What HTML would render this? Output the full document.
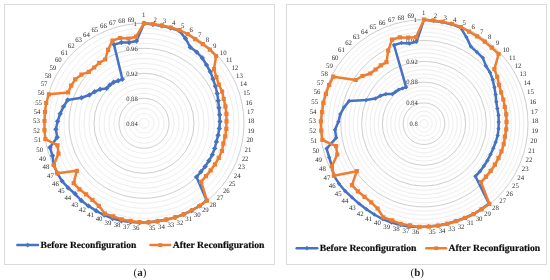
<!DOCTYPE html>
<html><head><meta charset="utf-8"><title>Radar charts</title>
<style>html,body{margin:0;padding:0;background:#fff}svg{display:block;text-rendering:geometricPrecision}</style></head>
<body>
<svg width="550" height="280" viewBox="0 0 550 280" font-family="'Liberation Serif', 'Times New Roman', serif">
<rect x="0" y="0" width="550" height="280" fill="#ffffff"/>
<rect x="4.5" y="4.5" width="270" height="260" fill="#fff" stroke="#dbdbdb" stroke-width="1"/>
<rect x="286.5" y="4.5" width="260" height="260" fill="#fff" stroke="#dbdbdb" stroke-width="1"/>
<circle cx="144" cy="123.3" r="5.00" fill="none" stroke="#eeeeee" stroke-width="1.0"/>
<circle cx="144" cy="123.3" r="10.00" fill="none" stroke="#eeeeee" stroke-width="1.0"/>
<circle cx="144" cy="123.3" r="15.00" fill="none" stroke="#eeeeee" stroke-width="1.0"/>
<circle cx="144" cy="123.3" r="20.00" fill="none" stroke="#eeeeee" stroke-width="1.0"/>
<circle cx="144" cy="123.3" r="25.00" fill="none" stroke="#cecece" stroke-width="1.0"/>
<circle cx="144" cy="123.3" r="30.00" fill="none" stroke="#eeeeee" stroke-width="1.0"/>
<circle cx="144" cy="123.3" r="35.00" fill="none" stroke="#eeeeee" stroke-width="1.0"/>
<circle cx="144" cy="123.3" r="40.00" fill="none" stroke="#eeeeee" stroke-width="1.0"/>
<circle cx="144" cy="123.3" r="45.00" fill="none" stroke="#eeeeee" stroke-width="1.0"/>
<circle cx="144" cy="123.3" r="50.00" fill="none" stroke="#cecece" stroke-width="1.0"/>
<circle cx="144" cy="123.3" r="55.00" fill="none" stroke="#eeeeee" stroke-width="1.0"/>
<circle cx="144" cy="123.3" r="60.00" fill="none" stroke="#eeeeee" stroke-width="1.0"/>
<circle cx="144" cy="123.3" r="65.00" fill="none" stroke="#eeeeee" stroke-width="1.0"/>
<circle cx="144" cy="123.3" r="70.00" fill="none" stroke="#eeeeee" stroke-width="1.0"/>
<circle cx="144" cy="123.3" r="75.00" fill="none" stroke="#cecece" stroke-width="1.0"/>
<circle cx="144" cy="123.3" r="80.00" fill="none" stroke="#eeeeee" stroke-width="1.0"/>
<circle cx="144" cy="123.3" r="85.00" fill="none" stroke="#eeeeee" stroke-width="1.0"/>
<circle cx="144" cy="123.3" r="90.00" fill="none" stroke="#eeeeee" stroke-width="1.0"/>
<circle cx="144" cy="123.3" r="95.00" fill="none" stroke="#eeeeee" stroke-width="1.0"/>
<circle cx="144" cy="123.3" r="100.00" fill="none" stroke="#cecece" stroke-width="1.0"/>
<text x="136.8" y="25.5" text-anchor="end" font-size="6.6" fill="#2b2b2b">1</text>
<text x="137.7" y="50.5" text-anchor="end" font-size="6.6" fill="#2b2b2b">0.96</text>
<text x="137.7" y="75.5" text-anchor="end" font-size="6.6" fill="#2b2b2b">0.92</text>
<text x="137.7" y="100.5" text-anchor="end" font-size="6.6" fill="#2b2b2b">0.88</text>
<text x="137.7" y="125.5" text-anchor="end" font-size="6.6" fill="#2b2b2b">0.84</text>
<line x1="136.6" y1="23.299999999999997" x2="141" y2="23.299999999999997" stroke="#bdbdbd" stroke-width="0.8"/>
<text x="143.6" y="17.1" text-anchor="middle" font-size="6.8" fill="#2b2b2b">1</text>
<text x="153.4" y="21.9" text-anchor="start" font-size="6.8" fill="#2b2b2b">2</text>
<text x="162.8" y="23.2" text-anchor="start" font-size="6.8" fill="#2b2b2b">3</text>
<text x="172.0" y="25.4" text-anchor="start" font-size="6.8" fill="#2b2b2b">4</text>
<text x="180.9" y="28.3" text-anchor="start" font-size="6.8" fill="#2b2b2b">5</text>
<text x="189.6" y="32.1" text-anchor="start" font-size="6.8" fill="#2b2b2b">6</text>
<text x="197.9" y="36.7" text-anchor="start" font-size="6.8" fill="#2b2b2b">7</text>
<text x="205.7" y="42.0" text-anchor="start" font-size="6.8" fill="#2b2b2b">8</text>
<text x="213.0" y="47.9" text-anchor="start" font-size="6.8" fill="#2b2b2b">9</text>
<text x="219.8" y="54.6" text-anchor="start" font-size="6.8" fill="#2b2b2b">10</text>
<text x="225.9" y="61.8" text-anchor="start" font-size="6.8" fill="#2b2b2b">11</text>
<text x="231.4" y="69.5" text-anchor="start" font-size="6.8" fill="#2b2b2b">12</text>
<text x="236.1" y="77.8" text-anchor="start" font-size="6.8" fill="#2b2b2b">13</text>
<text x="240.0" y="86.4" text-anchor="start" font-size="6.8" fill="#2b2b2b">14</text>
<text x="243.2" y="95.3" text-anchor="start" font-size="6.8" fill="#2b2b2b">15</text>
<text x="245.5" y="104.5" text-anchor="start" font-size="6.8" fill="#2b2b2b">16</text>
<text x="247.0" y="113.9" text-anchor="start" font-size="6.8" fill="#2b2b2b">17</text>
<text x="247.7" y="123.3" text-anchor="start" font-size="6.8" fill="#2b2b2b">18</text>
<text x="247.5" y="132.8" text-anchor="start" font-size="6.8" fill="#2b2b2b">19</text>
<text x="246.4" y="142.2" text-anchor="start" font-size="6.8" fill="#2b2b2b">20</text>
<text x="244.5" y="151.5" text-anchor="start" font-size="6.8" fill="#2b2b2b">21</text>
<text x="241.7" y="160.6" text-anchor="start" font-size="6.8" fill="#2b2b2b">22</text>
<text x="238.1" y="169.4" text-anchor="start" font-size="6.8" fill="#2b2b2b">23</text>
<text x="233.8" y="177.8" text-anchor="start" font-size="6.8" fill="#2b2b2b">24</text>
<text x="228.7" y="185.8" text-anchor="start" font-size="6.8" fill="#2b2b2b">25</text>
<text x="222.9" y="193.3" text-anchor="start" font-size="6.8" fill="#2b2b2b">26</text>
<text x="216.5" y="200.2" text-anchor="start" font-size="6.8" fill="#2b2b2b">27</text>
<text x="209.4" y="206.5" text-anchor="start" font-size="6.8" fill="#2b2b2b">28</text>
<text x="201.9" y="212.2" text-anchor="start" font-size="6.8" fill="#2b2b2b">29</text>
<text x="193.8" y="217.1" text-anchor="start" font-size="6.8" fill="#2b2b2b">30</text>
<text x="185.3" y="221.3" text-anchor="start" font-size="6.8" fill="#2b2b2b">31</text>
<text x="176.5" y="224.7" text-anchor="start" font-size="6.8" fill="#2b2b2b">32</text>
<text x="167.4" y="227.2" text-anchor="start" font-size="6.8" fill="#2b2b2b">33</text>
<text x="158.1" y="228.9" text-anchor="start" font-size="6.8" fill="#2b2b2b">34</text>
<text x="148.7" y="229.8" text-anchor="start" font-size="6.8" fill="#2b2b2b">35</text>
<text x="139.3" y="229.8" text-anchor="end" font-size="6.8" fill="#2b2b2b">36</text>
<text x="129.8" y="228.9" text-anchor="end" font-size="6.8" fill="#2b2b2b">37</text>
<text x="120.5" y="227.2" text-anchor="end" font-size="6.8" fill="#2b2b2b">38</text>
<text x="111.3" y="224.7" text-anchor="end" font-size="6.8" fill="#2b2b2b">39</text>
<text x="102.5" y="221.3" text-anchor="end" font-size="6.8" fill="#2b2b2b">40</text>
<text x="94.0" y="217.1" text-anchor="end" font-size="6.8" fill="#2b2b2b">41</text>
<text x="85.9" y="212.2" text-anchor="end" font-size="6.8" fill="#2b2b2b">42</text>
<text x="78.2" y="206.5" text-anchor="end" font-size="6.8" fill="#2b2b2b">43</text>
<text x="71.2" y="200.2" text-anchor="end" font-size="6.8" fill="#2b2b2b">44</text>
<text x="64.7" y="193.3" text-anchor="end" font-size="6.8" fill="#2b2b2b">45</text>
<text x="58.9" y="185.8" text-anchor="end" font-size="6.8" fill="#2b2b2b">46</text>
<text x="53.8" y="177.8" text-anchor="end" font-size="6.8" fill="#2b2b2b">47</text>
<text x="49.4" y="169.4" text-anchor="end" font-size="6.8" fill="#2b2b2b">48</text>
<text x="45.8" y="160.6" text-anchor="end" font-size="6.8" fill="#2b2b2b">49</text>
<text x="43.1" y="151.5" text-anchor="end" font-size="6.8" fill="#2b2b2b">50</text>
<text x="41.1" y="142.2" text-anchor="end" font-size="6.8" fill="#2b2b2b">51</text>
<text x="40.0" y="132.8" text-anchor="end" font-size="6.8" fill="#2b2b2b">52</text>
<text x="39.8" y="123.3" text-anchor="end" font-size="6.8" fill="#2b2b2b">53</text>
<text x="40.5" y="113.9" text-anchor="end" font-size="6.8" fill="#2b2b2b">54</text>
<text x="42.0" y="104.5" text-anchor="end" font-size="6.8" fill="#2b2b2b">55</text>
<text x="44.3" y="95.3" text-anchor="end" font-size="6.8" fill="#2b2b2b">56</text>
<text x="47.5" y="86.4" text-anchor="end" font-size="6.8" fill="#2b2b2b">57</text>
<text x="51.5" y="77.8" text-anchor="end" font-size="6.8" fill="#2b2b2b">58</text>
<text x="56.2" y="69.5" text-anchor="end" font-size="6.8" fill="#2b2b2b">59</text>
<text x="61.7" y="61.8" text-anchor="end" font-size="6.8" fill="#2b2b2b">60</text>
<text x="67.8" y="54.6" text-anchor="end" font-size="6.8" fill="#2b2b2b">61</text>
<text x="74.6" y="47.9" text-anchor="end" font-size="6.8" fill="#2b2b2b">62</text>
<text x="82.0" y="42.0" text-anchor="end" font-size="6.8" fill="#2b2b2b">63</text>
<text x="89.9" y="36.7" text-anchor="end" font-size="6.8" fill="#2b2b2b">64</text>
<text x="98.2" y="32.1" text-anchor="end" font-size="6.8" fill="#2b2b2b">65</text>
<text x="106.9" y="28.3" text-anchor="end" font-size="6.8" fill="#2b2b2b">66</text>
<text x="115.9" y="25.4" text-anchor="end" font-size="6.8" fill="#2b2b2b">67</text>
<text x="125.1" y="23.2" text-anchor="end" font-size="6.8" fill="#2b2b2b">68</text>
<text x="134.5" y="21.9" text-anchor="end" font-size="6.8" fill="#2b2b2b">69</text>
<path d="M144.0 23.3 L153.0 24.5 L161.9 25.9 L170.7 28.0 L179.3 30.8 L185.5 38.5 L190.3 47.2 L196.7 52.1 L202.3 58.0 L206.5 64.9 L210.3 71.8 L213.1 79.1 L215.4 86.3 L217.2 93.4 L218.2 100.7 L219.0 107.7 L219.6 114.7 L220.0 121.6 L219.3 128.5 L218.1 135.2 L216.4 141.8 L214.7 148.4 L212.3 154.8 L208.9 160.8 L205.2 166.5 L200.9 171.8 L196.5 177.0 L206.7 200.4 L199.5 205.9 L191.7 210.5 L183.6 214.4 L175.1 217.4 L166.3 219.6 L157.5 221.3 L148.5 222.3 L139.5 222.5 L130.5 221.9 L121.4 220.7 L112.6 218.5 L104.2 215.0 L96.1 210.8 L88.5 205.9 L81.2 200.5 L75.1 193.8 L68.2 187.9 L62.1 181.1 L57.4 173.3 L53.8 165.0 L52.5 155.8 L49.9 147.4 L57.2 137.2 L55.9 129.3 L57.6 121.3 L60.2 113.7 L63.5 106.6 L67.7 100.0 L81.5 97.8 L89.3 95.0 L94.6 91.7 L100.2 89.3 L106.6 88.4 L109.8 84.9 L113.6 82.2 L118.2 80.8 L122.4 79.2 L114.0 44.6 L121.4 42.5 L129.1 42.5 L136.5 41.0 Z" fill="none" stroke="#4472C4" stroke-width="2.5" stroke-linejoin="round"/>
<path d="M144.0 20.6l2.7 2.7l-2.7 2.7l-2.7 -2.7zM153.0 21.8l2.7 2.7l-2.7 2.7l-2.7 -2.7zM161.9 23.2l2.7 2.7l-2.7 2.7l-2.7 -2.7zM170.7 25.3l2.7 2.7l-2.7 2.7l-2.7 -2.7zM179.3 28.1l2.7 2.7l-2.7 2.7l-2.7 -2.7zM185.5 35.8l2.7 2.7l-2.7 2.7l-2.7 -2.7zM190.3 44.5l2.7 2.7l-2.7 2.7l-2.7 -2.7zM196.7 49.4l2.7 2.7l-2.7 2.7l-2.7 -2.7zM202.3 55.3l2.7 2.7l-2.7 2.7l-2.7 -2.7zM206.5 62.2l2.7 2.7l-2.7 2.7l-2.7 -2.7zM210.3 69.1l2.7 2.7l-2.7 2.7l-2.7 -2.7zM213.1 76.4l2.7 2.7l-2.7 2.7l-2.7 -2.7zM215.4 83.6l2.7 2.7l-2.7 2.7l-2.7 -2.7zM217.2 90.7l2.7 2.7l-2.7 2.7l-2.7 -2.7zM218.2 98.0l2.7 2.7l-2.7 2.7l-2.7 -2.7zM219.0 105.0l2.7 2.7l-2.7 2.7l-2.7 -2.7zM219.6 112.0l2.7 2.7l-2.7 2.7l-2.7 -2.7zM220.0 118.9l2.7 2.7l-2.7 2.7l-2.7 -2.7zM219.3 125.8l2.7 2.7l-2.7 2.7l-2.7 -2.7zM218.1 132.5l2.7 2.7l-2.7 2.7l-2.7 -2.7zM216.4 139.1l2.7 2.7l-2.7 2.7l-2.7 -2.7zM214.7 145.7l2.7 2.7l-2.7 2.7l-2.7 -2.7zM212.3 152.1l2.7 2.7l-2.7 2.7l-2.7 -2.7zM208.9 158.1l2.7 2.7l-2.7 2.7l-2.7 -2.7zM205.2 163.8l2.7 2.7l-2.7 2.7l-2.7 -2.7zM200.9 169.1l2.7 2.7l-2.7 2.7l-2.7 -2.7zM196.5 174.3l2.7 2.7l-2.7 2.7l-2.7 -2.7zM206.7 197.7l2.7 2.7l-2.7 2.7l-2.7 -2.7zM199.5 203.2l2.7 2.7l-2.7 2.7l-2.7 -2.7zM191.7 207.8l2.7 2.7l-2.7 2.7l-2.7 -2.7zM183.6 211.7l2.7 2.7l-2.7 2.7l-2.7 -2.7zM175.1 214.7l2.7 2.7l-2.7 2.7l-2.7 -2.7zM166.3 216.9l2.7 2.7l-2.7 2.7l-2.7 -2.7zM157.5 218.6l2.7 2.7l-2.7 2.7l-2.7 -2.7zM148.5 219.6l2.7 2.7l-2.7 2.7l-2.7 -2.7zM139.5 219.8l2.7 2.7l-2.7 2.7l-2.7 -2.7zM130.5 219.2l2.7 2.7l-2.7 2.7l-2.7 -2.7zM121.4 218.0l2.7 2.7l-2.7 2.7l-2.7 -2.7zM112.6 215.8l2.7 2.7l-2.7 2.7l-2.7 -2.7zM104.2 212.3l2.7 2.7l-2.7 2.7l-2.7 -2.7zM96.1 208.1l2.7 2.7l-2.7 2.7l-2.7 -2.7zM88.5 203.2l2.7 2.7l-2.7 2.7l-2.7 -2.7zM81.2 197.8l2.7 2.7l-2.7 2.7l-2.7 -2.7zM75.1 191.1l2.7 2.7l-2.7 2.7l-2.7 -2.7zM68.2 185.2l2.7 2.7l-2.7 2.7l-2.7 -2.7zM62.1 178.4l2.7 2.7l-2.7 2.7l-2.7 -2.7zM57.4 170.6l2.7 2.7l-2.7 2.7l-2.7 -2.7zM53.8 162.3l2.7 2.7l-2.7 2.7l-2.7 -2.7zM52.5 153.1l2.7 2.7l-2.7 2.7l-2.7 -2.7zM49.9 144.7l2.7 2.7l-2.7 2.7l-2.7 -2.7zM57.2 134.5l2.7 2.7l-2.7 2.7l-2.7 -2.7zM55.9 126.6l2.7 2.7l-2.7 2.7l-2.7 -2.7zM57.6 118.6l2.7 2.7l-2.7 2.7l-2.7 -2.7zM60.2 111.0l2.7 2.7l-2.7 2.7l-2.7 -2.7zM63.5 103.9l2.7 2.7l-2.7 2.7l-2.7 -2.7zM67.7 97.3l2.7 2.7l-2.7 2.7l-2.7 -2.7zM81.5 95.1l2.7 2.7l-2.7 2.7l-2.7 -2.7zM89.3 92.3l2.7 2.7l-2.7 2.7l-2.7 -2.7zM94.6 89.0l2.7 2.7l-2.7 2.7l-2.7 -2.7zM100.2 86.6l2.7 2.7l-2.7 2.7l-2.7 -2.7zM106.6 85.7l2.7 2.7l-2.7 2.7l-2.7 -2.7zM109.8 82.2l2.7 2.7l-2.7 2.7l-2.7 -2.7zM113.6 79.5l2.7 2.7l-2.7 2.7l-2.7 -2.7zM118.2 78.1l2.7 2.7l-2.7 2.7l-2.7 -2.7zM122.4 76.5l2.7 2.7l-2.7 2.7l-2.7 -2.7zM114.0 41.9l2.7 2.7l-2.7 2.7l-2.7 -2.7zM121.4 39.8l2.7 2.7l-2.7 2.7l-2.7 -2.7zM129.1 39.8l2.7 2.7l-2.7 2.7l-2.7 -2.7zM136.5 38.3l2.7 2.7l-2.7 2.7l-2.7 -2.7z" fill="#4472C4"/>
<path d="M144.0 23.3 L153.1 24.0 L162.0 25.4 L170.8 27.5 L179.5 30.2 L187.7 34.1 L195.2 39.1 L202.7 44.1 L209.8 49.6 L216.1 56.0 L214.0 69.0 L216.4 77.0 L218.8 84.6 L222.1 91.5 L223.7 99.0 L225.4 106.4 L226.4 113.9 L226.5 121.4 L226.3 128.9 L225.2 136.3 L223.4 143.6 L221.9 151.0 L218.8 157.8 L215.0 164.3 L210.7 170.4 L206.0 176.1 L201.2 181.8 L206.9 200.6 L199.6 206.0 L191.7 210.5 L183.6 214.4 L175.1 217.4 L166.3 219.6 L157.5 221.3 L148.5 222.3 L139.5 222.2 L130.6 220.9 L121.7 219.4 L113.3 216.4 L104.8 213.6 L98.8 205.8 L92.4 200.0 L86.1 194.4 L79.5 189.3 L73.7 183.2 L76.8 170.8 L57.4 173.3 L53.8 165.0 L58.5 153.7 L57.5 145.4 L45.4 139.2 L44.5 130.1 L44.5 121.0 L45.0 112.0 L46.2 103.0 L48.9 94.3 L68.1 92.4 L71.2 85.6 L75.2 79.3 L81.4 74.7 L88.8 71.8 L94.2 67.5 L99.2 62.9 L105.2 59.5 L108.1 49.9 L112.5 40.6 L120.1 38.0 L128.4 38.5 L136.1 36.7 Z" fill="none" stroke="#ED7D31" stroke-width="2.5" stroke-linejoin="round"/>
<path d="M141.9 21.2h4.2v4.2h-4.2zM151.0 21.9h4.2v4.2h-4.2zM159.9 23.3h4.2v4.2h-4.2zM168.7 25.4h4.2v4.2h-4.2zM177.4 28.1h4.2v4.2h-4.2zM185.6 32.0h4.2v4.2h-4.2zM193.1 37.0h4.2v4.2h-4.2zM200.6 42.0h4.2v4.2h-4.2zM207.7 47.5h4.2v4.2h-4.2zM214.0 53.9h4.2v4.2h-4.2zM211.9 66.9h4.2v4.2h-4.2zM214.3 74.9h4.2v4.2h-4.2zM216.7 82.5h4.2v4.2h-4.2zM220.0 89.4h4.2v4.2h-4.2zM221.6 96.9h4.2v4.2h-4.2zM223.3 104.3h4.2v4.2h-4.2zM224.3 111.8h4.2v4.2h-4.2zM224.4 119.3h4.2v4.2h-4.2zM224.2 126.8h4.2v4.2h-4.2zM223.1 134.2h4.2v4.2h-4.2zM221.3 141.5h4.2v4.2h-4.2zM219.8 148.9h4.2v4.2h-4.2zM216.7 155.7h4.2v4.2h-4.2zM212.9 162.2h4.2v4.2h-4.2zM208.6 168.3h4.2v4.2h-4.2zM203.9 174.0h4.2v4.2h-4.2zM199.1 179.7h4.2v4.2h-4.2zM204.8 198.5h4.2v4.2h-4.2zM197.5 203.9h4.2v4.2h-4.2zM189.6 208.4h4.2v4.2h-4.2zM181.5 212.3h4.2v4.2h-4.2zM173.0 215.3h4.2v4.2h-4.2zM164.2 217.5h4.2v4.2h-4.2zM155.4 219.2h4.2v4.2h-4.2zM146.4 220.2h4.2v4.2h-4.2zM137.4 220.1h4.2v4.2h-4.2zM128.5 218.8h4.2v4.2h-4.2zM119.6 217.3h4.2v4.2h-4.2zM111.2 214.3h4.2v4.2h-4.2zM102.7 211.5h4.2v4.2h-4.2zM96.7 203.7h4.2v4.2h-4.2zM90.3 197.9h4.2v4.2h-4.2zM84.0 192.3h4.2v4.2h-4.2zM77.4 187.2h4.2v4.2h-4.2zM71.6 181.1h4.2v4.2h-4.2zM74.7 168.7h4.2v4.2h-4.2zM55.3 171.2h4.2v4.2h-4.2zM51.7 162.9h4.2v4.2h-4.2zM56.4 151.6h4.2v4.2h-4.2zM55.4 143.3h4.2v4.2h-4.2zM43.3 137.1h4.2v4.2h-4.2zM42.4 128.0h4.2v4.2h-4.2zM42.4 118.9h4.2v4.2h-4.2zM42.9 109.9h4.2v4.2h-4.2zM44.1 100.9h4.2v4.2h-4.2zM46.8 92.2h4.2v4.2h-4.2zM66.0 90.3h4.2v4.2h-4.2zM69.1 83.5h4.2v4.2h-4.2zM73.1 77.2h4.2v4.2h-4.2zM79.3 72.6h4.2v4.2h-4.2zM86.7 69.7h4.2v4.2h-4.2zM92.1 65.4h4.2v4.2h-4.2zM97.1 60.8h4.2v4.2h-4.2zM103.1 57.4h4.2v4.2h-4.2zM106.0 47.8h4.2v4.2h-4.2zM110.4 38.5h4.2v4.2h-4.2zM118.0 35.9h4.2v4.2h-4.2zM126.3 36.4h4.2v4.2h-4.2zM134.0 34.6h4.2v4.2h-4.2z" fill="#ED7D31"/>
<circle cx="424" cy="123.7" r="4.16" fill="none" stroke="#eeeeee" stroke-width="1.0"/>
<circle cx="424" cy="123.7" r="8.32" fill="none" stroke="#eeeeee" stroke-width="1.0"/>
<circle cx="424" cy="123.7" r="12.48" fill="none" stroke="#eeeeee" stroke-width="1.0"/>
<circle cx="424" cy="123.7" r="16.64" fill="none" stroke="#eeeeee" stroke-width="1.0"/>
<circle cx="424" cy="123.7" r="20.80" fill="none" stroke="#cecece" stroke-width="1.0"/>
<circle cx="424" cy="123.7" r="24.96" fill="none" stroke="#eeeeee" stroke-width="1.0"/>
<circle cx="424" cy="123.7" r="29.12" fill="none" stroke="#eeeeee" stroke-width="1.0"/>
<circle cx="424" cy="123.7" r="33.28" fill="none" stroke="#eeeeee" stroke-width="1.0"/>
<circle cx="424" cy="123.7" r="37.44" fill="none" stroke="#eeeeee" stroke-width="1.0"/>
<circle cx="424" cy="123.7" r="41.60" fill="none" stroke="#cecece" stroke-width="1.0"/>
<circle cx="424" cy="123.7" r="45.76" fill="none" stroke="#eeeeee" stroke-width="1.0"/>
<circle cx="424" cy="123.7" r="49.92" fill="none" stroke="#eeeeee" stroke-width="1.0"/>
<circle cx="424" cy="123.7" r="54.08" fill="none" stroke="#eeeeee" stroke-width="1.0"/>
<circle cx="424" cy="123.7" r="58.24" fill="none" stroke="#eeeeee" stroke-width="1.0"/>
<circle cx="424" cy="123.7" r="62.40" fill="none" stroke="#cecece" stroke-width="1.0"/>
<circle cx="424" cy="123.7" r="66.56" fill="none" stroke="#eeeeee" stroke-width="1.0"/>
<circle cx="424" cy="123.7" r="70.72" fill="none" stroke="#eeeeee" stroke-width="1.0"/>
<circle cx="424" cy="123.7" r="74.88" fill="none" stroke="#eeeeee" stroke-width="1.0"/>
<circle cx="424" cy="123.7" r="79.04" fill="none" stroke="#eeeeee" stroke-width="1.0"/>
<circle cx="424" cy="123.7" r="83.20" fill="none" stroke="#cecece" stroke-width="1.0"/>
<circle cx="424" cy="123.7" r="87.36" fill="none" stroke="#eeeeee" stroke-width="1.0"/>
<circle cx="424" cy="123.7" r="91.52" fill="none" stroke="#eeeeee" stroke-width="1.0"/>
<circle cx="424" cy="123.7" r="95.68" fill="none" stroke="#eeeeee" stroke-width="1.0"/>
<circle cx="424" cy="123.7" r="99.84" fill="none" stroke="#eeeeee" stroke-width="1.0"/>
<circle cx="424" cy="123.7" r="104.00" fill="none" stroke="#cecece" stroke-width="1.0"/>
<text x="416.8" y="21.9" text-anchor="end" font-size="6.6" fill="#2b2b2b">1</text>
<text x="417.7" y="42.7" text-anchor="end" font-size="6.6" fill="#2b2b2b">0.96</text>
<text x="417.7" y="63.5" text-anchor="end" font-size="6.6" fill="#2b2b2b">0.92</text>
<text x="417.7" y="84.3" text-anchor="end" font-size="6.6" fill="#2b2b2b">0.88</text>
<text x="417.7" y="105.1" text-anchor="end" font-size="6.6" fill="#2b2b2b">0.84</text>
<text x="417.7" y="125.9" text-anchor="end" font-size="6.6" fill="#2b2b2b">0.8</text>
<line x1="416.6" y1="19.700000000000003" x2="421" y2="19.700000000000003" stroke="#bdbdbd" stroke-width="0.8"/>
<text x="423.6" y="14.9" text-anchor="middle" font-size="6.8" fill="#2b2b2b">1</text>
<text x="433.8" y="18.1" text-anchor="start" font-size="6.8" fill="#2b2b2b">2</text>
<text x="443.5" y="19.5" text-anchor="start" font-size="6.8" fill="#2b2b2b">3</text>
<text x="453.1" y="21.7" text-anchor="start" font-size="6.8" fill="#2b2b2b">4</text>
<text x="462.4" y="24.8" text-anchor="start" font-size="6.8" fill="#2b2b2b">5</text>
<text x="471.4" y="28.7" text-anchor="start" font-size="6.8" fill="#2b2b2b">6</text>
<text x="480.0" y="33.5" text-anchor="start" font-size="6.8" fill="#2b2b2b">7</text>
<text x="488.1" y="38.9" text-anchor="start" font-size="6.8" fill="#2b2b2b">8</text>
<text x="495.7" y="45.2" text-anchor="start" font-size="6.8" fill="#2b2b2b">9</text>
<text x="502.7" y="52.0" text-anchor="start" font-size="6.8" fill="#2b2b2b">10</text>
<text x="509.1" y="59.5" text-anchor="start" font-size="6.8" fill="#2b2b2b">11</text>
<text x="514.7" y="67.6" text-anchor="start" font-size="6.8" fill="#2b2b2b">12</text>
<text x="519.6" y="76.1" text-anchor="start" font-size="6.8" fill="#2b2b2b">13</text>
<text x="523.7" y="85.1" text-anchor="start" font-size="6.8" fill="#2b2b2b">14</text>
<text x="527.0" y="94.3" text-anchor="start" font-size="6.8" fill="#2b2b2b">15</text>
<text x="529.4" y="103.9" text-anchor="start" font-size="6.8" fill="#2b2b2b">16</text>
<text x="531.0" y="113.6" text-anchor="start" font-size="6.8" fill="#2b2b2b">17</text>
<text x="531.7" y="123.4" text-anchor="start" font-size="6.8" fill="#2b2b2b">18</text>
<text x="531.4" y="133.3" text-anchor="start" font-size="6.8" fill="#2b2b2b">19</text>
<text x="530.3" y="143.1" text-anchor="start" font-size="6.8" fill="#2b2b2b">20</text>
<text x="528.3" y="152.7" text-anchor="start" font-size="6.8" fill="#2b2b2b">21</text>
<text x="525.5" y="162.1" text-anchor="start" font-size="6.8" fill="#2b2b2b">22</text>
<text x="521.8" y="171.3" text-anchor="start" font-size="6.8" fill="#2b2b2b">23</text>
<text x="517.3" y="180.0" text-anchor="start" font-size="6.8" fill="#2b2b2b">24</text>
<text x="512.0" y="188.3" text-anchor="start" font-size="6.8" fill="#2b2b2b">25</text>
<text x="506.0" y="196.1" text-anchor="start" font-size="6.8" fill="#2b2b2b">26</text>
<text x="499.3" y="203.3" text-anchor="start" font-size="6.8" fill="#2b2b2b">27</text>
<text x="492.0" y="209.8" text-anchor="start" font-size="6.8" fill="#2b2b2b">28</text>
<text x="484.1" y="215.7" text-anchor="start" font-size="6.8" fill="#2b2b2b">29</text>
<text x="475.7" y="220.8" text-anchor="start" font-size="6.8" fill="#2b2b2b">30</text>
<text x="466.9" y="225.1" text-anchor="start" font-size="6.8" fill="#2b2b2b">31</text>
<text x="457.7" y="228.7" text-anchor="start" font-size="6.8" fill="#2b2b2b">32</text>
<text x="448.3" y="231.3" text-anchor="start" font-size="6.8" fill="#2b2b2b">33</text>
<text x="438.7" y="233.1" text-anchor="start" font-size="6.8" fill="#2b2b2b">34</text>
<text x="428.9" y="234.0" text-anchor="start" font-size="6.8" fill="#2b2b2b">35</text>
<text x="419.1" y="234.0" text-anchor="end" font-size="6.8" fill="#2b2b2b">36</text>
<text x="409.3" y="233.1" text-anchor="end" font-size="6.8" fill="#2b2b2b">37</text>
<text x="399.6" y="231.3" text-anchor="end" font-size="6.8" fill="#2b2b2b">38</text>
<text x="390.1" y="228.7" text-anchor="end" font-size="6.8" fill="#2b2b2b">39</text>
<text x="380.9" y="225.1" text-anchor="end" font-size="6.8" fill="#2b2b2b">40</text>
<text x="372.0" y="220.8" text-anchor="end" font-size="6.8" fill="#2b2b2b">41</text>
<text x="363.6" y="215.7" text-anchor="end" font-size="6.8" fill="#2b2b2b">42</text>
<text x="355.7" y="209.8" text-anchor="end" font-size="6.8" fill="#2b2b2b">43</text>
<text x="348.4" y="203.3" text-anchor="end" font-size="6.8" fill="#2b2b2b">44</text>
<text x="341.6" y="196.1" text-anchor="end" font-size="6.8" fill="#2b2b2b">45</text>
<text x="335.6" y="188.3" text-anchor="end" font-size="6.8" fill="#2b2b2b">46</text>
<text x="330.3" y="180.0" text-anchor="end" font-size="6.8" fill="#2b2b2b">47</text>
<text x="325.8" y="171.3" text-anchor="end" font-size="6.8" fill="#2b2b2b">48</text>
<text x="322.0" y="162.1" text-anchor="end" font-size="6.8" fill="#2b2b2b">49</text>
<text x="319.2" y="152.7" text-anchor="end" font-size="6.8" fill="#2b2b2b">50</text>
<text x="317.2" y="143.1" text-anchor="end" font-size="6.8" fill="#2b2b2b">51</text>
<text x="316.1" y="133.3" text-anchor="end" font-size="6.8" fill="#2b2b2b">52</text>
<text x="315.8" y="123.4" text-anchor="end" font-size="6.8" fill="#2b2b2b">53</text>
<text x="316.5" y="113.6" text-anchor="end" font-size="6.8" fill="#2b2b2b">54</text>
<text x="318.1" y="103.9" text-anchor="end" font-size="6.8" fill="#2b2b2b">55</text>
<text x="320.5" y="94.3" text-anchor="end" font-size="6.8" fill="#2b2b2b">56</text>
<text x="323.8" y="85.1" text-anchor="end" font-size="6.8" fill="#2b2b2b">57</text>
<text x="327.9" y="76.1" text-anchor="end" font-size="6.8" fill="#2b2b2b">58</text>
<text x="332.9" y="67.6" text-anchor="end" font-size="6.8" fill="#2b2b2b">59</text>
<text x="338.5" y="59.5" text-anchor="end" font-size="6.8" fill="#2b2b2b">60</text>
<text x="344.9" y="52.0" text-anchor="end" font-size="6.8" fill="#2b2b2b">61</text>
<text x="352.0" y="45.2" text-anchor="end" font-size="6.8" fill="#2b2b2b">62</text>
<text x="359.6" y="38.9" text-anchor="end" font-size="6.8" fill="#2b2b2b">63</text>
<text x="367.8" y="33.5" text-anchor="end" font-size="6.8" fill="#2b2b2b">64</text>
<text x="376.4" y="28.7" text-anchor="end" font-size="6.8" fill="#2b2b2b">65</text>
<text x="385.5" y="24.8" text-anchor="end" font-size="6.8" fill="#2b2b2b">66</text>
<text x="394.8" y="21.7" text-anchor="end" font-size="6.8" fill="#2b2b2b">67</text>
<text x="404.4" y="19.5" text-anchor="end" font-size="6.8" fill="#2b2b2b">68</text>
<text x="414.2" y="18.1" text-anchor="end" font-size="6.8" fill="#2b2b2b">69</text>
<path d="M424.0 19.7 L433.4 20.8 L442.7 22.3 L451.8 24.4 L460.6 27.6 L466.4 37.1 L470.9 46.6 L477.0 52.2 L482.8 57.8 L485.9 65.9 L490.0 72.4 L492.7 79.7 L494.4 87.2 L495.6 94.5 L496.3 101.7 L497.3 108.5 L498.5 115.2 L498.7 122.0 L498.5 128.8 L497.7 135.5 L495.7 142.0 L493.3 148.3 L490.5 154.4 L487.5 160.3 L483.9 166.0 L479.9 171.4 L475.4 176.3 L489.0 203.6 L481.4 209.1 L473.4 214.0 L464.9 217.8 L456.1 221.0 L447.1 223.6 L438.0 225.5 L428.7 226.4 L419.3 227.1 L409.8 226.7 L400.5 225.0 L391.4 222.5 L382.6 219.1 L374.3 214.5 L366.5 209.2 L359.0 203.6 L352.0 197.4 L345.1 191.0 L339.0 183.7 L333.9 175.7 L331.8 166.2 L329.2 157.4 L326.6 148.6 L336.2 137.8 L335.0 129.8 L338.4 121.8 L340.3 114.1 L344.2 107.1 L349.2 100.9 L366.1 100.1 L375.4 98.5 L380.4 95.8 L385.8 94.1 L392.4 94.1 L395.6 91.8 L398.8 89.6 L402.5 88.4 L406.1 87.2 L394.0 45.0 L401.4 42.9 L409.3 43.6 L416.5 41.8 Z" fill="none" stroke="#4472C4" stroke-width="2.5" stroke-linejoin="round"/>
<path d="M424.0 17.5l2.2 2.2l-2.2 2.2l-2.2 -2.2zM433.4 18.6l2.2 2.2l-2.2 2.2l-2.2 -2.2zM442.7 20.1l2.2 2.2l-2.2 2.2l-2.2 -2.2zM451.8 22.2l2.2 2.2l-2.2 2.2l-2.2 -2.2zM460.6 25.4l2.2 2.2l-2.2 2.2l-2.2 -2.2zM466.4 34.9l2.2 2.2l-2.2 2.2l-2.2 -2.2zM470.9 44.4l2.2 2.2l-2.2 2.2l-2.2 -2.2zM477.0 50.0l2.2 2.2l-2.2 2.2l-2.2 -2.2zM482.8 55.6l2.2 2.2l-2.2 2.2l-2.2 -2.2zM485.9 63.7l2.2 2.2l-2.2 2.2l-2.2 -2.2zM490.0 70.2l2.2 2.2l-2.2 2.2l-2.2 -2.2zM492.7 77.5l2.2 2.2l-2.2 2.2l-2.2 -2.2zM494.4 85.0l2.2 2.2l-2.2 2.2l-2.2 -2.2zM495.6 92.3l2.2 2.2l-2.2 2.2l-2.2 -2.2zM496.3 99.5l2.2 2.2l-2.2 2.2l-2.2 -2.2zM497.3 106.3l2.2 2.2l-2.2 2.2l-2.2 -2.2zM498.5 113.0l2.2 2.2l-2.2 2.2l-2.2 -2.2zM498.7 119.8l2.2 2.2l-2.2 2.2l-2.2 -2.2zM498.5 126.6l2.2 2.2l-2.2 2.2l-2.2 -2.2zM497.7 133.3l2.2 2.2l-2.2 2.2l-2.2 -2.2zM495.7 139.8l2.2 2.2l-2.2 2.2l-2.2 -2.2zM493.3 146.1l2.2 2.2l-2.2 2.2l-2.2 -2.2zM490.5 152.2l2.2 2.2l-2.2 2.2l-2.2 -2.2zM487.5 158.2l2.2 2.2l-2.2 2.2l-2.2 -2.2zM483.9 163.8l2.2 2.2l-2.2 2.2l-2.2 -2.2zM479.9 169.2l2.2 2.2l-2.2 2.2l-2.2 -2.2zM475.4 174.1l2.2 2.2l-2.2 2.2l-2.2 -2.2zM489.0 201.4l2.2 2.2l-2.2 2.2l-2.2 -2.2zM481.4 206.9l2.2 2.2l-2.2 2.2l-2.2 -2.2zM473.4 211.8l2.2 2.2l-2.2 2.2l-2.2 -2.2zM464.9 215.6l2.2 2.2l-2.2 2.2l-2.2 -2.2zM456.1 218.8l2.2 2.2l-2.2 2.2l-2.2 -2.2zM447.1 221.4l2.2 2.2l-2.2 2.2l-2.2 -2.2zM438.0 223.3l2.2 2.2l-2.2 2.2l-2.2 -2.2zM428.7 224.2l2.2 2.2l-2.2 2.2l-2.2 -2.2zM419.3 224.9l2.2 2.2l-2.2 2.2l-2.2 -2.2zM409.8 224.5l2.2 2.2l-2.2 2.2l-2.2 -2.2zM400.5 222.8l2.2 2.2l-2.2 2.2l-2.2 -2.2zM391.4 220.3l2.2 2.2l-2.2 2.2l-2.2 -2.2zM382.6 216.9l2.2 2.2l-2.2 2.2l-2.2 -2.2zM374.3 212.3l2.2 2.2l-2.2 2.2l-2.2 -2.2zM366.5 207.0l2.2 2.2l-2.2 2.2l-2.2 -2.2zM359.0 201.4l2.2 2.2l-2.2 2.2l-2.2 -2.2zM352.0 195.2l2.2 2.2l-2.2 2.2l-2.2 -2.2zM345.1 188.8l2.2 2.2l-2.2 2.2l-2.2 -2.2zM339.0 181.5l2.2 2.2l-2.2 2.2l-2.2 -2.2zM333.9 173.5l2.2 2.2l-2.2 2.2l-2.2 -2.2zM331.8 164.0l2.2 2.2l-2.2 2.2l-2.2 -2.2zM329.2 155.2l2.2 2.2l-2.2 2.2l-2.2 -2.2zM326.6 146.4l2.2 2.2l-2.2 2.2l-2.2 -2.2zM336.2 135.6l2.2 2.2l-2.2 2.2l-2.2 -2.2zM335.0 127.6l2.2 2.2l-2.2 2.2l-2.2 -2.2zM338.4 119.6l2.2 2.2l-2.2 2.2l-2.2 -2.2zM340.3 111.9l2.2 2.2l-2.2 2.2l-2.2 -2.2zM344.2 104.9l2.2 2.2l-2.2 2.2l-2.2 -2.2zM349.2 98.7l2.2 2.2l-2.2 2.2l-2.2 -2.2zM366.1 97.9l2.2 2.2l-2.2 2.2l-2.2 -2.2zM375.4 96.3l2.2 2.2l-2.2 2.2l-2.2 -2.2zM380.4 93.6l2.2 2.2l-2.2 2.2l-2.2 -2.2zM385.8 91.9l2.2 2.2l-2.2 2.2l-2.2 -2.2zM392.4 91.9l2.2 2.2l-2.2 2.2l-2.2 -2.2zM395.6 89.6l2.2 2.2l-2.2 2.2l-2.2 -2.2zM398.8 87.4l2.2 2.2l-2.2 2.2l-2.2 -2.2zM402.5 86.2l2.2 2.2l-2.2 2.2l-2.2 -2.2zM406.1 85.0l2.2 2.2l-2.2 2.2l-2.2 -2.2zM394.0 42.8l2.2 2.2l-2.2 2.2l-2.2 -2.2zM401.4 40.7l2.2 2.2l-2.2 2.2l-2.2 -2.2zM409.3 41.4l2.2 2.2l-2.2 2.2l-2.2 -2.2zM416.5 39.6l2.2 2.2l-2.2 2.2l-2.2 -2.2z" fill="#4472C4"/>
<path d="M424.0 19.7 L433.4 20.4 L442.7 21.9 L452.0 23.9 L460.9 27.0 L469.1 31.6 L477.2 36.3 L484.8 41.6 L491.8 47.7 L498.6 54.0 L494.4 69.1 L497.2 76.9 L499.1 84.8 L501.1 92.3 L503.3 99.5 L504.8 106.9 L506.2 114.3 L506.5 121.8 L506.2 129.3 L504.9 136.7 L503.7 144.1 L501.5 151.3 L498.5 158.1 L494.9 164.6 L490.7 170.8 L486.0 176.6 L481.0 182.0 L489.3 203.9 L481.6 209.3 L473.6 214.2 L465.0 218.0 L456.2 221.2 L447.2 223.8 L438.0 225.7 L428.7 226.6 L419.3 226.9 L410.0 225.4 L400.8 223.8 L392.1 220.4 L383.3 217.3 L377.6 208.5 L371.2 202.3 L364.5 196.8 L357.9 191.3 L352.0 185.1 L356.8 171.2 L333.9 175.7 L331.9 166.2 L337.3 154.5 L336.1 146.2 L322.4 140.0 L321.3 130.7 L320.9 121.4 L322.1 112.0 L323.4 102.8 L325.9 93.8 L329.1 85.0 L333.3 76.7 L355.7 80.0 L362.5 76.0 L370.3 73.5 L375.6 69.5 L380.8 65.4 L386.5 62.1 L388.2 50.6 L392.0 39.7 L399.8 37.4 L408.2 37.7 L416.1 37.1 Z" fill="none" stroke="#ED7D31" stroke-width="2.5" stroke-linejoin="round"/>
<path d="M421.9 17.6h4.2v4.2h-4.2zM431.3 18.3h4.2v4.2h-4.2zM440.6 19.8h4.2v4.2h-4.2zM449.9 21.8h4.2v4.2h-4.2zM458.8 24.9h4.2v4.2h-4.2zM467.0 29.5h4.2v4.2h-4.2zM475.1 34.2h4.2v4.2h-4.2zM482.7 39.5h4.2v4.2h-4.2zM489.7 45.6h4.2v4.2h-4.2zM496.5 51.9h4.2v4.2h-4.2zM492.3 67.0h4.2v4.2h-4.2zM495.1 74.8h4.2v4.2h-4.2zM497.0 82.7h4.2v4.2h-4.2zM499.0 90.2h4.2v4.2h-4.2zM501.2 97.4h4.2v4.2h-4.2zM502.7 104.8h4.2v4.2h-4.2zM504.1 112.2h4.2v4.2h-4.2zM504.4 119.7h4.2v4.2h-4.2zM504.1 127.2h4.2v4.2h-4.2zM502.8 134.6h4.2v4.2h-4.2zM501.6 142.0h4.2v4.2h-4.2zM499.4 149.2h4.2v4.2h-4.2zM496.4 156.0h4.2v4.2h-4.2zM492.8 162.5h4.2v4.2h-4.2zM488.6 168.7h4.2v4.2h-4.2zM483.9 174.5h4.2v4.2h-4.2zM478.9 179.9h4.2v4.2h-4.2zM487.2 201.8h4.2v4.2h-4.2zM479.5 207.2h4.2v4.2h-4.2zM471.5 212.1h4.2v4.2h-4.2zM462.9 215.9h4.2v4.2h-4.2zM454.1 219.1h4.2v4.2h-4.2zM445.1 221.7h4.2v4.2h-4.2zM435.9 223.6h4.2v4.2h-4.2zM426.6 224.5h4.2v4.2h-4.2zM417.2 224.8h4.2v4.2h-4.2zM407.9 223.3h4.2v4.2h-4.2zM398.7 221.7h4.2v4.2h-4.2zM390.0 218.3h4.2v4.2h-4.2zM381.2 215.2h4.2v4.2h-4.2zM375.5 206.4h4.2v4.2h-4.2zM369.1 200.2h4.2v4.2h-4.2zM362.4 194.7h4.2v4.2h-4.2zM355.8 189.2h4.2v4.2h-4.2zM349.9 183.0h4.2v4.2h-4.2zM354.7 169.1h4.2v4.2h-4.2zM331.8 173.6h4.2v4.2h-4.2zM329.8 164.1h4.2v4.2h-4.2zM335.2 152.4h4.2v4.2h-4.2zM334.0 144.1h4.2v4.2h-4.2zM320.3 137.9h4.2v4.2h-4.2zM319.2 128.6h4.2v4.2h-4.2zM318.8 119.3h4.2v4.2h-4.2zM320.0 109.9h4.2v4.2h-4.2zM321.3 100.7h4.2v4.2h-4.2zM323.8 91.7h4.2v4.2h-4.2zM327.0 82.9h4.2v4.2h-4.2zM331.2 74.6h4.2v4.2h-4.2zM353.6 77.9h4.2v4.2h-4.2zM360.4 73.9h4.2v4.2h-4.2zM368.2 71.4h4.2v4.2h-4.2zM373.5 67.4h4.2v4.2h-4.2zM378.7 63.3h4.2v4.2h-4.2zM384.4 60.0h4.2v4.2h-4.2zM386.1 48.5h4.2v4.2h-4.2zM389.9 37.6h4.2v4.2h-4.2zM397.7 35.3h4.2v4.2h-4.2zM406.1 35.6h4.2v4.2h-4.2zM414.0 35.0h4.2v4.2h-4.2z" fill="#ED7D31"/>
<line x1="17.4" y1="245.1" x2="38.0" y2="245.1" stroke="#4472C4" stroke-width="2.5" stroke-linecap="round"/>
<path d="M27.7 242.7l2.4 2.4l-2.4 2.4l-2.4 -2.4z" fill="#4472C4"/>
<text x="40.6" y="248.0" font-size="9.6" font-weight="bold" fill="#0d0d0d" stroke="#0d0d0d" stroke-width="0.18" textLength="95.7" lengthAdjust="spacingAndGlyphs">Before Reconfiguration</text>
<line x1="150.5" y1="245.1" x2="170.20000000000002" y2="245.1" stroke="#ED7D31" stroke-width="2.5" stroke-linecap="round"/>
<rect x="158.4" y="243.2" width="3.8" height="3.8" fill="#ED7D31"/>
<text x="172.8" y="248.0" font-size="9.6" font-weight="bold" fill="#0d0d0d" stroke="#0d0d0d" stroke-width="0.18" textLength="91.6" lengthAdjust="spacingAndGlyphs">After Reconfiguration</text>
<line x1="296.7" y1="248.2" x2="317.2" y2="248.2" stroke="#4472C4" stroke-width="2.5" stroke-linecap="round"/>
<path d="M306.9 245.79999999999998l2.4 2.4l-2.4 2.4l-2.4 -2.4z" fill="#4472C4"/>
<text x="319.8" y="251.1" font-size="9.6" font-weight="bold" fill="#0d0d0d" stroke="#0d0d0d" stroke-width="0.18" textLength="96.7" lengthAdjust="spacingAndGlyphs">Before Reconfiguration</text>
<line x1="426.3" y1="248.2" x2="446.0" y2="248.2" stroke="#ED7D31" stroke-width="2.5" stroke-linecap="round"/>
<rect x="434.3" y="246.29999999999998" width="3.8" height="3.8" fill="#ED7D31"/>
<text x="448.6" y="251.1" font-size="9.6" font-weight="bold" fill="#0d0d0d" stroke="#0d0d0d" stroke-width="0.18" textLength="91.6" lengthAdjust="spacingAndGlyphs">After Reconfiguration</text>
<text x="139.9" y="276.4" text-anchor="middle" font-size="11" fill="#222">(<tspan font-weight="bold">a</tspan>)</text>
<text x="417.2" y="276.4" text-anchor="middle" font-size="11" fill="#222">(<tspan font-weight="bold">b</tspan>)</text>
</svg>
</body></html>
